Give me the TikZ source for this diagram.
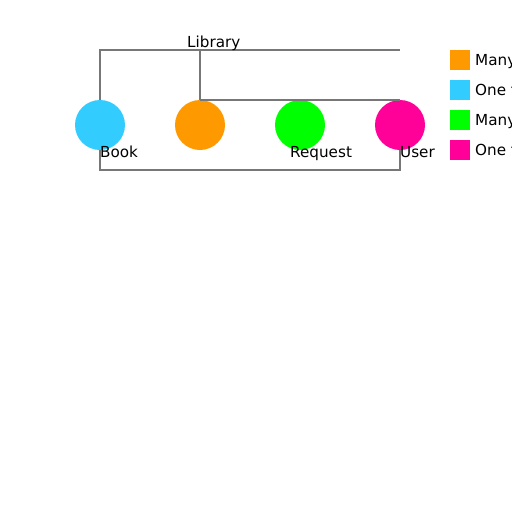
\documentclass[tikz,border=0pt]{standalone}
\usepackage{fontspec}
\setmainfont{DejaVu Sans}
\definecolor{cblue}{HTML}{33CCFF}
\definecolor{corange}{HTML}{FF9900}
\definecolor{cgreen}{HTML}{00FF00}
\definecolor{cpink}{HTML}{FF0099}
\definecolor{lgray}{HTML}{777777}
\begin{document}
\begin{tikzpicture}[x=1pt,y=-1pt,
  ent/.style={circle,minimum size=50pt,inner sep=0pt,draw=none},
  lbl/.style={inner sep=0pt,anchor=base west,font=\fontsize{15.2}{17}\selectfont},
  leg/.style={minimum size=20pt,inner sep=0pt,draw=none,anchor=north west},
  conn/.style={draw=lgray,line width=1.4pt}]
\clip (0,0) rectangle (512,512);
\fill[white] (0,0) rectangle (512,512);
\node[ent,fill=cblue] (book) at (100,125) {};
\node[ent,fill=corange] (lib) at (200,125) {};
\node[ent,fill=cgreen] (req) at (300,125) {};
\node[ent,fill=cpink] (user) at (400,125) {};
\coordinate (tr) at (400,50);
\coordinate (tl) at (100,50);
\coordinate (bl) at (100,170);
\coordinate (br) at (400,170);
\draw[conn] (book.north) -- (tl) -- (tr);
\draw[conn] (lib.north) |- (tl);
\draw[conn] (lib.north) -- (user.north);
\draw[conn] (book.south) -- (bl) -- (br) -- (user.south);
\node[lbl] (tlib) at (187,47) {Library};
\node[lbl] (tbook) at (100,157) {Book};
\node[lbl] (treq) at (290,157) {Request};
\node[lbl] (tuser) at (400,157) {User};
\node[leg,fill=corange] (l1) at (450,50) {};
\node[leg,fill=cblue] (l2) at (450,80) {};
\node[leg,fill=cgreen] (l3) at (450,110) {};
\node[leg,fill=cpink] (l4) at (450,140) {};
\node[lbl] (t1) at (475,65) {Many to One};
\node[lbl] (t2) at (475,95) {One to Many};
\node[lbl] (t3) at (475,125) {Many to Many};
\node[lbl] (t4) at (475,155) {One to One};
\end{tikzpicture}
\end{document}
